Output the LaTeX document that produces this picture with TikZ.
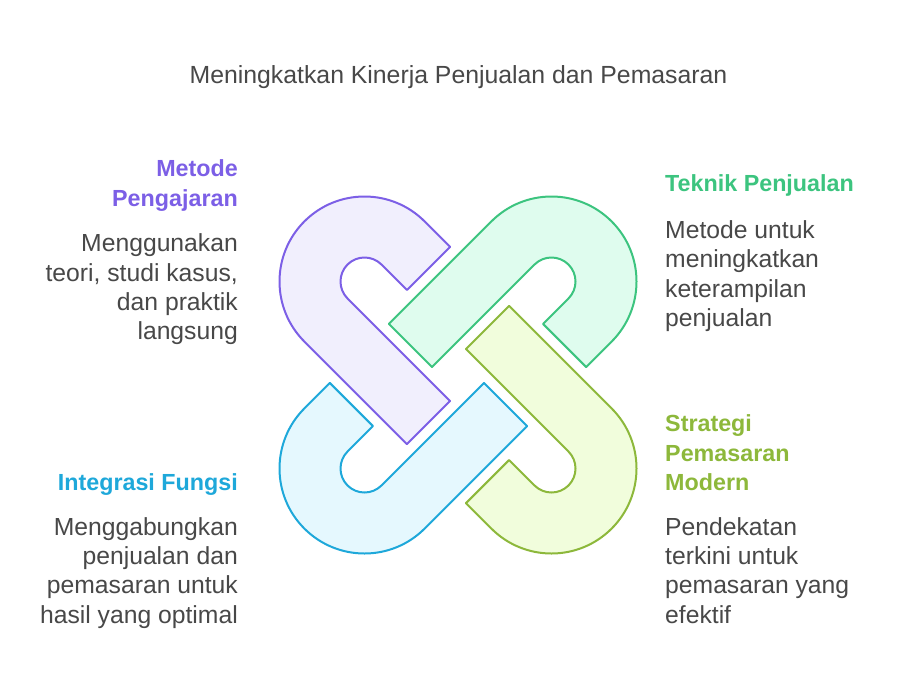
\documentclass[tikz,border=0pt]{standalone}
\usepackage{fontspec}
\setmainfont{Liberation Sans}
\definecolor{purpS}{HTML}{7C5FE6}
\definecolor{purpF}{HTML}{F1EFFD}
\definecolor{grnS}{HTML}{3CC47F}
\definecolor{grnF}{HTML}{DFFCEE}
\definecolor{limS}{HTML}{8DB83B}
\definecolor{limF}{HTML}{F1FDDC}
\definecolor{bluS}{HTML}{1EA8DA}
\definecolor{bluF}{HTML}{E5F8FE}
\definecolor{txt}{HTML}{484848}
\begin{document}
\begin{tikzpicture}[x=1pt,y=1pt,
  link/.style={line width=2pt, line join=round},
  body/.style={inner sep=0pt, text=txt, font=\fontsize{24.7}{29}\selectfont},
  head/.style={inner sep=0pt, font=\fontsize{23.3}{29}\selectfont\bfseries},
  titletext/.style={inner sep=0pt, text=txt, font=\fontsize{24.8}{29}\selectfont}]
\useasboundingbox (0,0) rectangle (904,-693);
\fill[white] (0,0) rectangle (904,-693);

% four interlocking links
\foreach \cx/\cy/\ang/\sc/\fc in {364.5/-281.5/-45/purpS/purpF, 551.5/-281.5/-135/grnS/grnF, 551.5/-468.5/135/limS/limF, 364.5/-468.5/45/bluS/bluF} {
  \draw[link, draw=\sc, fill=\fc, shift={(\cx,\cy)}, rotate=\ang]
    (36,85) -- (0,85) arc[start angle=90, end angle=270, radius=85]
    -- (145,-85) -- (145,-24) -- (0,-24)
    arc[start angle=-90, end angle=-270, radius=24]
    -- (36,24) -- cycle;
}

% title
\node[titletext, anchor=base] (title) at (458.5,-83.3) {Meningkatkan Kinerja Penjualan dan Pemasaran};

% top left
\node[head, text=purpS, anchor=base east] (h1a) at (238,-176.7) {Metode};
\node[head, text=purpS, anchor=base east] (h1b) at (238,-206) {Pengajaran};
\node[body, anchor=base east] (b1a) at (238,-251.7) {Menggunakan};
\node[body, anchor=base east] (b1b) at (238,-281.1) {teori, studi kasus,};
\node[body, anchor=base east] (b1c) at (238,-310.5) {dan praktik};
\node[body, anchor=base east] (b1d) at (238,-339.9) {langsung};

% top right
\node[head, text=grnS, anchor=base west] (h2a) at (665,-191.7) {Teknik Penjualan};
\node[body, anchor=base west] (b2a) at (665,-238.3) {Metode untuk};
\node[body, anchor=base west] (b2b) at (665,-267.7) {meningkatkan};
\node[body, anchor=base west] (b2c) at (665,-297.1) {keterampilan};
\node[body, anchor=base west] (b2d) at (665,-326.5) {penjualan};

% bottom left
\node[head, text=bluS, anchor=base east] (h3a) at (238,-490) {Integrasi Fungsi};
\node[body, anchor=base east] (b3a) at (238,-535) {Menggabungkan};
\node[body, anchor=base east] (b3b) at (238,-564.4) {penjualan dan};
\node[body, anchor=base east] (b3c) at (238,-593.8) {pemasaran untuk};
\node[body, anchor=base east] (b3d) at (238,-623.2) {hasil yang optimal};

% bottom right
\node[head, text=limS, anchor=base west] (h4a) at (665,-431.7) {Strategi};
\node[head, text=limS, anchor=base west] (h4b) at (665,-461) {Pemasaran};
\node[head, text=limS, anchor=base west] (h4c) at (665,-490.3) {Modern};
\node[body, anchor=base west] (b4a) at (665,-535) {Pendekatan};
\node[body, anchor=base west] (b4b) at (665,-564.4) {terkini untuk};
\node[body, anchor=base west] (b4c) at (665,-593.8) {pemasaran yang};
\node[body, anchor=base west] (b4d) at (665,-623.2) {efektif};
\end{tikzpicture}
\end{document}
